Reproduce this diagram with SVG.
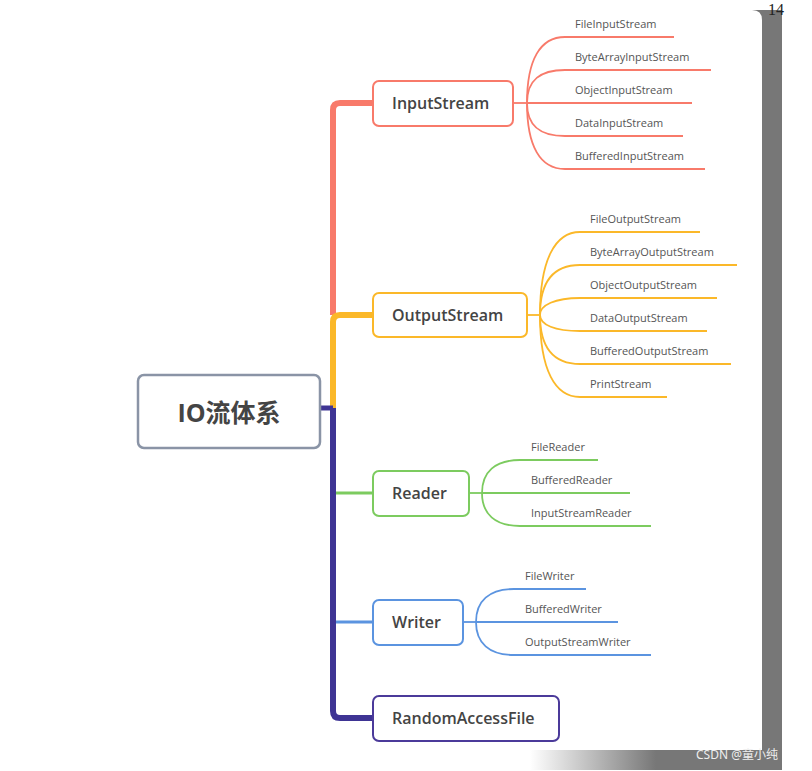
<svg xmlns="http://www.w3.org/2000/svg" width="812" height="771" viewBox="0 0 812 771">
<defs>
<linearGradient id="bg" x1="0" x2="1" y1="0" y2="0"><stop offset="0" stop-color="#fff"/><stop offset="0.5" stop-color="#777"/><stop offset="1" stop-color="#777"/></linearGradient>
</defs>
<style>
.box{fill:#fff;stroke-width:2}
.t{font-family:"Open Sans","Noto Sans",sans-serif;font-weight:600;font-size:16px;fill:#444;dominant-baseline:central}
.s{font-family:"Open Sans","Noto Sans",sans-serif;font-size:11px;fill:#555}
.c{fill:none;stroke-width:1.8}
.r{stroke:#f87a6a}.o{stroke:#fbb829}.g{stroke:#7ccb5f}.b{stroke:#5b94e0}.p{stroke:#4b3a9a}
.k{stroke:#3e3494}
</style>
<rect width="812" height="771" fill="#fff"/>
<rect x="530" y="750" width="252" height="20" fill="url(#bg)"/>
<path d="M752 10 H782 V750 H762 V20 Q762 10 752 10 Z" fill="#777"/>
<text x="768" y="15" font-family="Liberation Serif,serif" font-size="16" fill="#222">14</text>
<g id="connectors">
<path d="M333 315 V110 Q333 103 340 103 H373" class="c r" style="stroke-width:6"/>
<path d="M333 408 V322 Q333 315 340 315 H373" class="c o" style="stroke-width:6"/>
<path d="M333 408 V711 Q333 718 340 718 H373" class="c k" style="stroke-width:6"/>
<path d="M320 408 H333" class="c k" style="stroke-width:5"/>
<path d="M336 493 H373" class="c g" style="stroke-width:3"/>
<path d="M336 622 H373" class="c b" style="stroke-width:3"/>
<g class="c r">
<path d="M513 103 H527"/>
<path d="M527 103 C527 60 540 37 565 37 H674"/>
<path d="M527 103 C527 80 540 70 565 70 H711"/>
<path d="M527 103 H692"/>
<path d="M527 103 C527 126 540 136 565 136 H683"/>
<path d="M527 103 C527 146 540 169 565 169 H705"/>
</g>
<g class="c o">
<path d="M527 315 H540"/>
<path d="M540 315 C540 260 555 232 580 232 H700"/>
<path d="M540 315 C540 280 555 265 580 265 H737"/>
<path d="M540 315 C540 305 555 298 580 298 H717"/>
<path d="M540 315 C540 325 555 331 580 331 H707"/>
<path d="M540 315 C540 350 555 364 580 364 H731"/>
<path d="M540 315 C540 370 555 397 580 397 H667"/>
</g>
<g class="c g">
<path d="M469 493 H482"/>
<path d="M482 493 C482 472 495 460 520 460 H598"/>
<path d="M482 493 H630"/>
<path d="M482 493 C482 514 495 526 520 526 H651"/>
</g>
<g class="c b">
<path d="M463 622 H476"/>
<path d="M476 622 C476 601 489 589 514 589 H586"/>
<path d="M476 622 H618"/>
<path d="M476 622 C476 643 489 655 514 655 H651"/>
</g>
</g>
<g id="root"><rect x="138" y="375" width="182" height="73" rx="6" class="box" stroke="#8a94a6" style="stroke-width:2.5"/><text x="229" y="412" text-anchor="middle" font-family="Open Sans,Noto Sans CJK SC,sans-serif" font-weight="700" font-size="25" fill="#444" dominant-baseline="central">IO流体系</text></g>
<g id="inputstream"><rect x="373" y="81" width="140" height="45" rx="6" class="box r"/><text x="392" y="103" class="t">InputStream</text></g>
<g id="outputstream"><rect x="373" y="293" width="154" height="44" rx="6" class="box o"/><text x="392" y="315" class="t">OutputStream</text></g>
<g id="reader"><rect x="373" y="471" width="96" height="45" rx="6" class="box g"/><text x="392" y="493" class="t">Reader</text></g>
<g id="writer"><rect x="373" y="600" width="90" height="45" rx="6" class="box b"/><text x="392" y="622" class="t">Writer</text></g>
<g id="raf"><rect x="373" y="696" width="186" height="45" rx="6" class="box p"/><text x="392" y="718" class="t">RandomAccessFile</text></g>
<g id="leaves">
<text x="575" y="28" class="s">FileInputStream</text>
<text x="575" y="61" class="s">ByteArrayInputStream</text>
<text x="575" y="94" class="s">ObjectInputStream</text>
<text x="575" y="127" class="s">DataInputStream</text>
<text x="575" y="160" class="s">BufferedInputStream</text>
<text x="590" y="223" class="s">FileOutputStream</text>
<text x="590" y="256" class="s">ByteArrayOutputStream</text>
<text x="590" y="289" class="s">ObjectOutputStream</text>
<text x="590" y="322" class="s">DataOutputStream</text>
<text x="590" y="355" class="s">BufferedOutputStream</text>
<text x="590" y="388" class="s">PrintStream</text>
<text x="531" y="451" class="s">FileReader</text>
<text x="531" y="484" class="s">BufferedReader</text>
<text x="531" y="517" class="s">InputStreamReader</text>
<text x="525" y="580" class="s">FileWriter</text>
<text x="525" y="613" class="s">BufferedWriter</text>
<text x="525" y="646" class="s">OutputStreamWriter</text>
</g>
<text x="696" y="759" font-family="Noto Sans,Noto Sans CJK SC,sans-serif" font-size="12" fill="#eee">CSDN @童小纯</text>
</svg>
